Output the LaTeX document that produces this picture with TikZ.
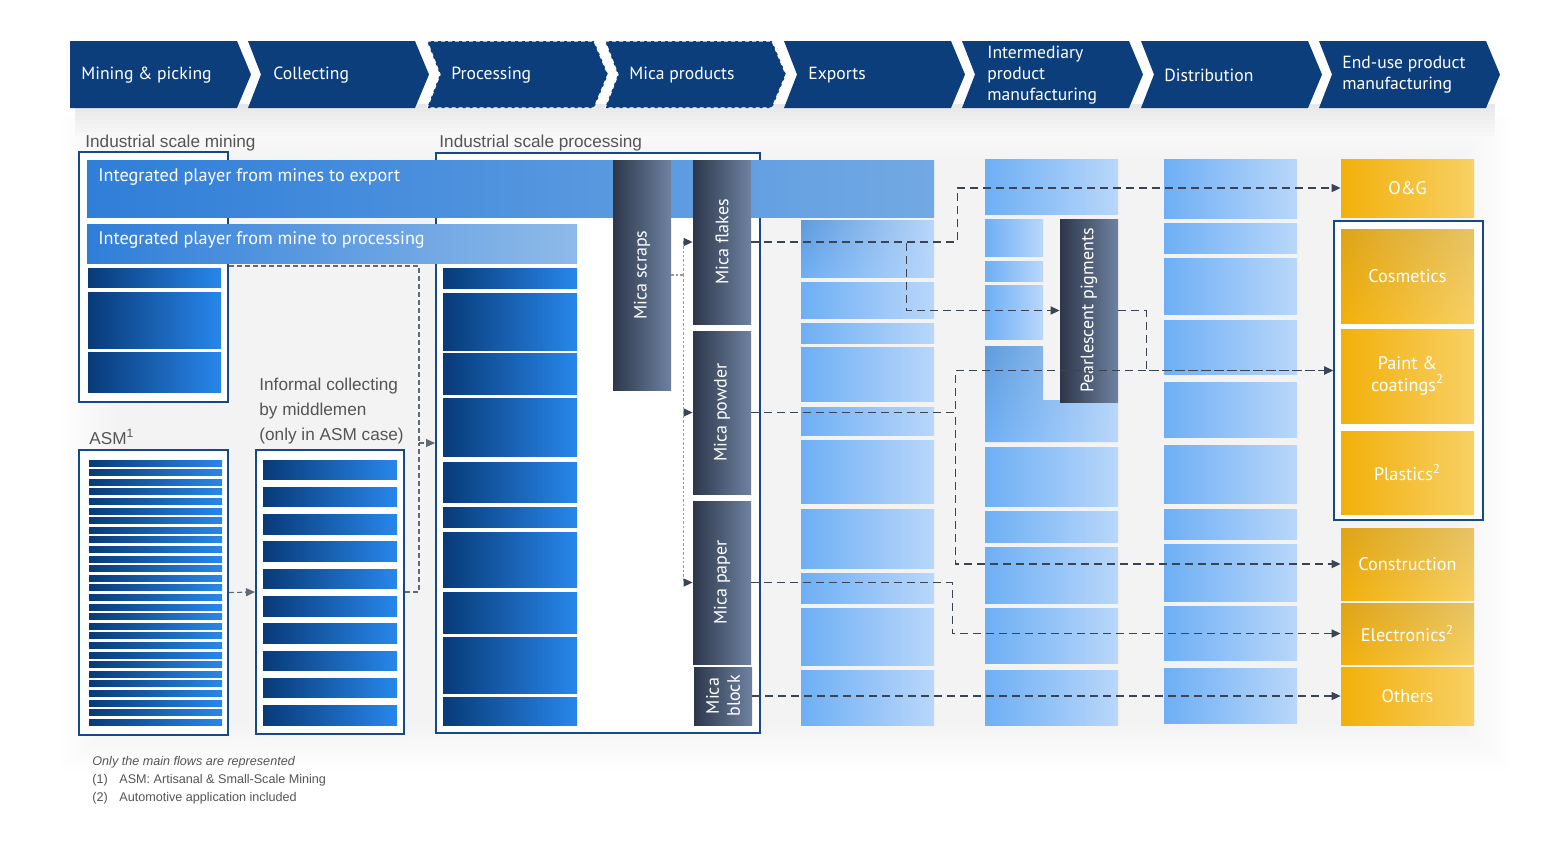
\documentclass[tikz,border=0pt]{standalone}
\usepackage{fontspec}
\setmainfont{Liberation Sans}
\newfontfamily\boxfont{PT Sans}
\usetikzlibrary{positioning,fit,arrows.meta,shadings}
\tikzset{>={Triangle[length=4.5pt,width=4pt]}}

\definecolor{navy}{HTML}{0C3E7C}
\definecolor{framecol}{HTML}{164A86}
\definecolor{darkL}{HTML}{083A78}
\definecolor{darkR}{HTML}{2887EB}
\definecolor{lightL}{HTML}{6EAFF5}
\definecolor{lightR}{HTML}{B9D7FA}
\definecolor{lightD}{HTML}{5E9BDC}
\definecolor{slateL}{HTML}{2D374B}
\definecolor{slateR}{HTML}{6E82A0}
\definecolor{goldL}{HTML}{F2B00A}
\definecolor{goldR}{HTML}{F8D064}
\definecolor{goldD}{HTML}{DEA418}
\definecolor{goldDR}{HTML}{E6C364}
\definecolor{intL}{HTML}{2F7ED8}
\definecolor{intR}{HTML}{72A9E4}
\definecolor{flowcol}{HTML}{3A4454}
\definecolor{labelcol}{HTML}{555555}

\begin{document}
\begin{tikzpicture}[x=0.5pt,y=-0.5pt,
  frame/.style={draw=framecol,line width=1pt,fill=white,inner sep=0pt},
  darkbar/.style={left color=darkL,right color=darkR},
  lightbar/.style={left color=lightL,right color=lightR},
  slatebox/.style={left color=slateL,right color=slateR,inner sep=0pt},
  slatetext/.style={text=white,inner sep=0pt,rotate=90,align=center,
    font=\boxfont\fontsize{9}{10.5}\selectfont},
  goldbox/.style={left color=goldL,right color=goldR,inner sep=0pt},
  goldshade/.style={upper left=goldD,upper right=goldDR,lower left=goldL,lower right=goldR,inner sep=0pt},
  goldtext/.style={text=white,inner sep=0pt,align=center,font=\boxfont\fontsize{9.1}{11}\selectfont},
  headtext/.style={text=white,anchor=west,inner sep=0pt,align=left,
    font=\boxfont\fontsize{8.8}{10.5}\selectfont},
  boxtext/.style={text=white,anchor=west,inner sep=0pt,font=\boxfont\fontsize{9.1}{10}\selectfont},
  lbl/.style={text=labelcol,anchor=west,inner sep=0pt,align=left,font=\fontsize{8.6}{12.5}\selectfont},
  note/.style={text=labelcol,anchor=west,inner sep=0pt,font=\fontsize{6.3}{7}\selectfont},
  flow/.style={draw=flowcol,line width=0.8pt,dash pattern=on 4pt off 2.5pt},
  thinflow/.style={draw=flowcol!80,line width=0.55pt,dash pattern=on 2.5pt off 1.5pt},
  dotflow/.style={draw=gray!80,line width=0.7pt,dash pattern=on 1.2pt off 1pt},
  dotarrow/.style={-{Triangle[length=4.5pt,width=4pt,color=flowcol]}}]
\useasboundingbox (0,0) rectangle (1568,843);
\fill[white] (0,0) rectangle (1568,843);
% soft grey background and header shadow
\foreach \i in {0,...,11}
  \fill[black,opacity=0.005] ({60+5*\i},{115+4*\i}) rectangle ({1510-5*\i},{770-4*\i});
\foreach \i in {1,...,8}
  \fill[black,opacity=0.01] (75,104) rectangle (1495,{104+4*\i});

% header chevrons
\fill[navy] (70,41) -- (237,41) -- (251,74.5) -- (237,108) -- (70,108) -- cycle;
\foreach \x in {248,427,605,784,962,1141,1319}
  \fill[navy] (\x,41) -- ++(167,0) -- ++(14,33.5) -- ++(-14,33.5) -- ++(-167,0) -- ++(13,-33.5) -- cycle;
\foreach \x in {427,605}
  \draw[white,line width=0.6pt,dash pattern=on 2pt off 1.5pt]
    (\x,41) -- ++(167,0) -- ++(14,33.5) -- ++(-14,33.5) -- ++(-167,0) -- ++(13,-33.5) -- cycle;
\node[headtext] (h1) at (81,75) {Mining \& picking};
\foreach \x/\txt/\n in {273/Collecting/2,451/Processing/3,629/Mica products/4,808/Exports/5,
    987/{Intermediary\\product\\manufacturing}/6,1164/Distribution/7,1342/{End-use product\\manufacturing}/8}
  \node[headtext] (h\n) at (\x,75) {\txt};

% frames
\node[frame,fit={(79,152)(228,402)}] (minefr) {};
\node[frame,fit={(436,153)(760,733)}] (procfr) {};
\node[frame,fit={(79,450)(228,735)}] (asmfr) {};
\node[frame,fit={(256,450)(404,734)}] (collfr) {};
\node[frame,fit={(1334,221)(1483,520)}] (cosfr) {};

\node[lbl] (lmine) at (85,143) {Industrial scale mining};
\node[lbl] (lproc) at (439,143) {Industrial scale processing};
\node[lbl] (lasm) at (89,437) {ASM\textsuperscript{1}};
\node[lbl] (lcoll) at (259,411) {Informal collecting\\by middlemen\\(only in ASM case)};

% integrated players
\shade[left color=intL,right color=intR] (87,160) rectangle (934,217);
\shade[left color=intL,right color=intR!80!white] (87,224) rectangle (577,263);
\node[boxtext] (texp) at (98,176.5) {Integrated player from mines to export};
\node[boxtext] (tmine) at (98,240) {Integrated player from mine to processing};

% blue bars
\foreach \t/\b in {268/287,292/348,352/392}
  \shade[darkbar] (88,\t) rectangle (221,\b);
\foreach \t/\b in {268/288,293/350,353/394,398/456,462/502,507/527,532/587,592/633,637/693,697/725}
  \shade[darkbar] (443,\t) rectangle (577,\b);
\foreach \k in {0,...,27}
  \shade[darkbar] (89,{460+9.6*\k}) rectangle (222,{466+9.6*\k});
\foreach \k in {0,...,9}
  \shade[darkbar] (263,{460+27.3*\k}) rectangle (397,{479.5+27.3*\k});

% light columns
\shade[upper left=lightD,upper right=lightR,lower left=lightL,lower right=lightR] (801,220) rectangle (934,277);
\foreach \t/\b in {282/318,323/343,347/401,407/435,440/503,509/568,573/603,608/665,670/725}
  \shade[lightbar] (801,\t) rectangle (934,\b);
\shade[lightbar] (985,159) rectangle (1118,214);
\foreach \t/\b in {219/256,261/281,285/339}
  \shade[lightbar] (985,\t) rectangle (1043,\b);
\shade[upper left=lightD,upper right=lightR,lower left=lightL,lower right=lightR]
  (985,346) -- (1043,346) -- (1043,400) -- (1118,400) -- (1118,442) -- (985,442) -- cycle;
\foreach \t/\b in {447/506,511/542,547/603,608/663,670/725}
  \shade[lightbar] (985,\t) rectangle (1118,\b);
\foreach \t/\b in {159/218,223/253,258/314,320/374,382/437,445/503,509/539,544/601,606/660,668/723}
  \shade[lightbar] (1164,\t) rectangle (1297,\b);

% mica products
\node[slatebox,fit={(613,160)(671,390)},label={[slatetext]center:Mica scraps}] (scraps) {};
\node[slatebox,fit={(693,160)(751,324)},label={[slatetext]center:Mica flakes}] (flakes) {};
\node[slatebox,fit={(693,331)(751,494)},label={[slatetext]center:Mica powder}] (powder) {};
\node[slatebox,fit={(693,501)(751,664)},label={[slatetext]center:Mica paper}] (paper) {};
\node[slatebox,fit={(694,667)(752,725)},label={[slatetext]center:Mica\\block}] (block) {};
\node[slatebox,fit={(1060,219)(1118,402)},label={[slatetext]center:Pearlescent pigments}] (pearl) {};

% end uses
\node[goldbox,fit={(1341,159)(1474,217)},label={[goldtext]center:O\&G}] (og) {};
\node[goldshade,fit={(1341,229)(1474,323)},label={[goldtext]center:Cosmetics}] (cosm) {};
\node[goldbox,fit={(1341,329)(1474,423)},label={[goldtext]center:Paint \&\\coatings\textsuperscript{2}}] (paint) {};
\node[goldbox,fit={(1341,431)(1474,514)},label={[goldtext]center:Plastics\textsuperscript{2}}] (plast) {};
\node[goldshade,fit={(1341,528)(1474,600)},label={[goldtext]center:Construction}] (constr) {};
\node[goldshade,fit={(1341,603)(1474,664)},label={[goldtext]center:Electronics\textsuperscript{2}}] (electr) {};
\node[goldbox,fit={(1341,667)(1474,725)},label={[goldtext]center:Others}] (others) {};

% flows
\coordinate (jn) at (419,443);
\draw[thinflow] ([yshift=-57.5pt]minefr.north east) -| (jn);
\draw[thinflow] (collfr.east) -| (jn);
\draw[thinflow,->] (jn) -- (procfr.west);
\draw[thinflow,->] (asmfr.east) -- (collfr.west);

\draw[dotflow] (scraps.east) -- ++(12,0) coordinate (sfork);
\draw[dotflow,dotarrow] (sfork) |- (flakes.west);
\draw[dotflow,dotarrow] (sfork) |- (powder.west);
\draw[dotflow,dotarrow] (sfork) |- (paper.west);

\draw[flow,->] (flakes.east) -- ++(206,0) |- (og.west);
\draw[flow,->] (flakes.east) -- ++(155,0) |- (pearl.west);
\draw[flow,->] (pearl.east) -- ++(28,0) |- (cosfr.west);
\draw[flow,->] (powder.east) -- ++(204,0) |- (cosfr.west);
\draw[flow,->] (powder.east) -- ++(204,0) |- (constr.west);
\draw[flow,->] (paper.east) -- ++(201,0) |- (electr.west);
\draw[flow,->] (block.east) -- (others.west);

% notes
\node[note] (n0) at (92,762) {\itshape Only the main flows are represented};
\node[note] (n1) at (92,780) {(1)};
\node[note,right=13.5pt of n1.west,anchor=west] (n1t) {ASM: Artisanal \& Small-Scale Mining};
\node[note] (n2) at (92,798) {(2)};
\node[note,right=13.5pt of n2.west,anchor=west] (n2t) {Automotive application included};
\end{tikzpicture}
\end{document}
